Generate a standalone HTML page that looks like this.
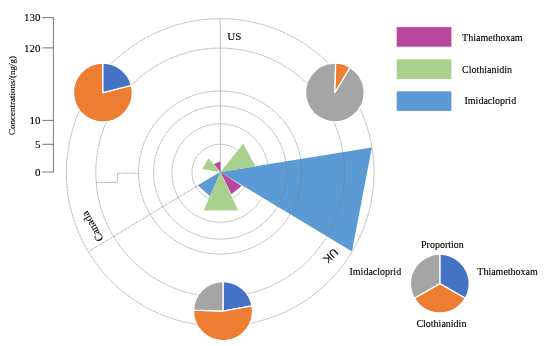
<!DOCTYPE html>
<html><head><meta charset="utf-8"><title>Chart</title>
<style>html,body{margin:0;padding:0;background:#fff}svg{display:block}</style></head>
<body>
<svg width="550" height="346" viewBox="0 0 550 346">
<rect width="550" height="346" fill="#fff"/>
<g fill="none" stroke="#787878" stroke-width="0.7" stroke-dasharray="1 0.6">
<ellipse cx="220.2" cy="173" rx="48.3" ry="49.2"/>
<circle cx="220.2" cy="172.5" r="28.2"/>
<line x1="220.5" y1="172.0" x2="352" y2="251.2"/>
<line x1="220.5" y1="172.0" x2="89.1" y2="251.2"/>
</g>
<polygon points="220.5,172.0 241.5,186.0 231.4,194.3" fill="#B8479D"/>
<polygon points="220.5,172.0 213.9,164.0 220.5,161.5" fill="#B8479D"/>
<polygon points="220.5,172.0 197.9,185.4 210.1,196.2" fill="#5B9BD5"/>
<polygon points="220.5,172.0 371.9,147.6 352.0,251.2" fill="#5B9BD5"/>
<polygon points="220.5,172.0 243.2,143.7 255.6,166.5" fill="#A9D18E"/>
<polygon points="220.5,172.0 208.5,158.3 202.3,169.1" fill="#A9D18E"/>
<polygon points="220.5,172.0 203.7,210.4 238.1,210.4" fill="#A9D18E"/>
<g fill="none" stroke="#787878" stroke-width="0.7" stroke-dasharray="1 0.6">
<circle cx="220.2" cy="172.5" r="153.8"/>
<circle cx="220.2" cy="172.5" r="124.4"/>
<circle cx="220.2" cy="172.5" r="81.6"/>
<circle cx="220.2" cy="172.5" r="66.6"/>
<line x1="220.3" y1="172.0" x2="220.3" y2="18.7"/>
<polyline points="96.3,182.5 117.4,182.5 117.4,173.2 138.6,173.2"/>
</g>
<g stroke="#6a6a6a" stroke-width="0.9" fill="none">
<line x1="53.4" y1="17.2" x2="53.4" y2="172.5"/>
<line x1="42.3" y1="17.7" x2="53.4" y2="17.7"/>
<line x1="42.3" y1="47.9" x2="53.4" y2="47.9"/>
<line x1="42.3" y1="120.4" x2="53.4" y2="120.4"/>
<line x1="42.3" y1="144.3" x2="53.4" y2="144.3"/>
<line x1="42.3" y1="172.0" x2="53.4" y2="172.0"/>
</g>
<g font-family="'Liberation Serif', serif" font-size="10" fill="#000" stroke="#000" stroke-width="0.12">
<text x="40.6" y="21.4" text-anchor="end" font-size="11">130</text>
<text x="40.6" y="51.6" text-anchor="end" font-size="11">120</text>
<text x="40.6" y="124.1" text-anchor="end" font-size="11">10</text>
<text x="40.6" y="148.0" text-anchor="end" font-size="11">5</text>
<text x="40.6" y="175.7" text-anchor="end" font-size="11">0</text>
<text transform="translate(15,95.5) rotate(-90)" text-anchor="middle" font-size="9">Concentrations/(ng/g)</text>
<text x="227.2" y="39.7" font-size="11">US</text>
<text transform="translate(92.4,226.5) rotate(-119.5)" text-anchor="middle" y="3.6" font-size="11">Canada</text>
<text x="462.1" y="40.7">Thiamethoxam</text>
<text x="462.1" y="72.5">Clothianidin</text>
<text x="464.5" y="104.3">Imidacloprid</text>
<text x="421" y="247.7">Proportion</text>
<text x="349.5" y="275">Imidacloprid</text>
<text x="477.3" y="275">Thiamethoxam</text>
<text x="416.4" y="326.6">Clothianidin</text>
</g>
<text transform="translate(330.8,255.8) rotate(137)" text-anchor="middle" y="3.9" font-family="'Liberation Sans', sans-serif" font-size="11" fill="#000" stroke="#000" stroke-width="0.12">UK</text>
<rect x="396.7" y="27.1" width="54.7" height="19.6" fill="#B8479D"/>
<rect x="396.7" y="59.3" width="54.7" height="19.7" fill="#A9D18E"/>
<rect x="396.7" y="91.3" width="54.7" height="19.6" fill="#5B9BD5"/>
<path d="M102.90 92.60L131.43 85.49A29.4 29.4 0 1 1 102.90 63.20Z" fill="#ED7D31" stroke="#fff" stroke-width="1.3" stroke-linejoin="round"/>
<path d="M102.90 92.60L102.90 63.20A29.4 29.4 0 0 1 131.43 85.49Z" fill="#4472C4" stroke="#fff" stroke-width="1.3" stroke-linejoin="round"/>
<path d="M334.90 92.50L349.99 67.38A29.3 29.3 0 1 1 335.67 63.21Z" fill="#A5A5A5" stroke="#fff" stroke-width="1.3" stroke-linejoin="round"/>
<path d="M334.90 92.50L335.67 63.21A29.3 29.3 0 0 1 349.99 67.38Z" fill="#ED7D31" stroke="#fff" stroke-width="1.3" stroke-linejoin="round"/>
<path d="M223.00 311.10L223.00 281.60A29.5 29.5 0 0 1 252.05 305.98Z" fill="#4472C4" stroke="#fff" stroke-width="1.3" stroke-linejoin="round"/>
<path d="M223.00 311.10L252.05 305.98A29.5 29.5 0 1 1 193.52 310.07Z" fill="#ED7D31" stroke="#fff" stroke-width="1.3" stroke-linejoin="round"/>
<path d="M223.00 311.10L193.52 310.07A29.5 29.5 0 0 1 223.00 281.60Z" fill="#A5A5A5" stroke="#fff" stroke-width="1.3" stroke-linejoin="round"/>
<path d="M439.80 283.60L439.80 254.20A29.4 29.4 0 0 1 465.26 298.30Z" fill="#4472C4" stroke="#fff" stroke-width="1.3" stroke-linejoin="round"/>
<path d="M439.80 283.60L465.26 298.30A29.4 29.4 0 0 1 414.34 298.30Z" fill="#ED7D31" stroke="#fff" stroke-width="1.3" stroke-linejoin="round"/>
<path d="M439.80 283.60L414.34 298.30A29.4 29.4 0 0 1 439.80 254.20Z" fill="#A5A5A5" stroke="#fff" stroke-width="1.3" stroke-linejoin="round"/>
</svg>
</body></html>
